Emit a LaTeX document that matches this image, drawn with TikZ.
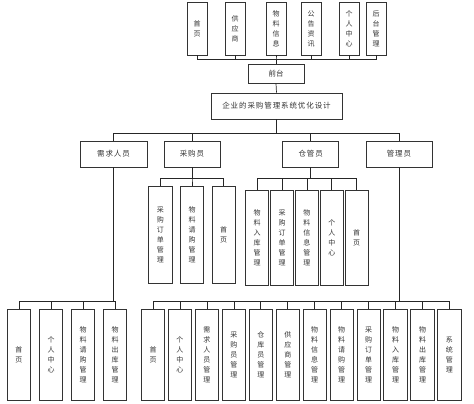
\documentclass[tikz,border=0pt]{standalone}
\usepackage{fontspec}
\setmainfont{Noto Sans CJK SC}
\usepackage{tikz}

\begin{document}
\begin{tikzpicture}[x=1pt,y=-1pt,
   box/.style={draw=black!80,line width=0.7pt,inner sep=0pt,align=center,
               text=black!80,font=\fontsize{7}{10}\selectfont},
   hbox/.style={box,minimum height=26,font=\fontsize{7.5}{9}\selectfont\addfontfeature{LetterSpace=12}},
   link/.style={draw=black!85,line width=0.7pt}]
   \useasboundingbox (0,0) rectangle (474,404);

   % front end pages
   \foreach \x/\t [count=\i] in {197/{首\\页},235/{供\\应\\商},276/{物\\料\\信\\息},
                                 311/{公\\告\\资\\讯},349/{个\\人\\中\\心},376/{后\\台\\管\\理}}{
   \node[box,minimum width=20,minimum height=53] (t\i) at (\x,28.5) {\t};
   }
   \node[box,minimum width=56,minimum height=19,font=\fontsize{7.5}{9}\selectfont] (qt) at (276,73.7) {前台};
   \node[hbox,minimum width=131] (sys) at (276.5,106) {企业的采购管理系统优化设计};

   % roles
   \node[hbox,minimum width=67] (xq) at (113.5,154) {需求人员};
   \node[hbox,minimum width=56] (cg) at (192,154) {采购员};
   \node[hbox,minimum width=56] (ck) at (310.7,154) {仓管员};
   \node[hbox,minimum width=66] (gl) at (399,154) {管理员};

   % purchaser
   \foreach \t [count=\i] in {{采\\购\\订\\单\\管\\理},{物\\料\\请\\购\\管\\理},{首\\页}}{
   \node[box,minimum width=23.5,minimum height=97.3] (cg\i) at (160.3+31.7*\i-31.7,234.7) {\t};
   }
   % warehouse keeper
   \foreach \t [count=\i] in {{物\\料\\入\\库\\管\\理},{采\\购\\订\\单\\管\\理},{物\\料\\信\\息\\管\\理},
                              {个\\人\\中\\心},{首\\页}}{
   \node[box,minimum width=23,minimum height=95.7] (ck\i) at (257.2+24.85*\i-24.85,237.8) {\t};
   }
   % requester
   \foreach \t [count=\i] in {{首\\页},{个\\人\\中\\心},{物\\料\\请\\购\\管\\理},{物\\料\\出\\库\\管\\理}}{
   \node[box,minimum width=23.3,minimum height=90.7] (xq\i) at (19+32*\i-32,354.7) {\t};
   }
   % administrator
   \foreach \t [count=\i] in {{首\\页},{个\\人\\中\\心},{需\\求\\人\\员\\管\\理},{采\\购\\员\\管\\理},
                              {仓\\库\\员\\管\\理},{供\\应\\商\\管\\理},{物\\料\\信\\息\\管\\理},
                              {物\\料\\请\\购\\管\\理},{采\\购\\订\\单\\管\\理},{物\\料\\入\\库\\管\\理},
                              {物\\料\\出\\库\\管\\理},{系\\统\\管\\理}}{
   \node[box,minimum width=23.5,minimum height=90.7] (gl\i) at (153+26.95*\i-26.95,354.7) {\t};
   }

   \foreach \i in {1,...,6} \draw[link] (qt.north) -- ++(0,-4.5) -| (t\i.south);
   \draw[link] (qt.south) -- (sys.north);
   \foreach \r in {xq,cg,ck,gl} \draw[link] (sys.south) -- ++(0,13.5) -| (\r.north);
   \foreach \i in {1,2,3} \draw[link] (cg.south) -- ++(0,10.7) -| (cg\i.north);
   \foreach \i in {1,...,5} \draw[link] (ck.south) -- ++(0,10.7) -| (ck\i.north);
   \foreach \i in {1,...,4} \draw[link] (xq.south) -- ++(0,134) -| (xq\i.north);
   \foreach \i in {1,...,12} \draw[link] (gl.south) -- ++(0,134) -| (gl\i.north);
\end{tikzpicture}
\end{document}
